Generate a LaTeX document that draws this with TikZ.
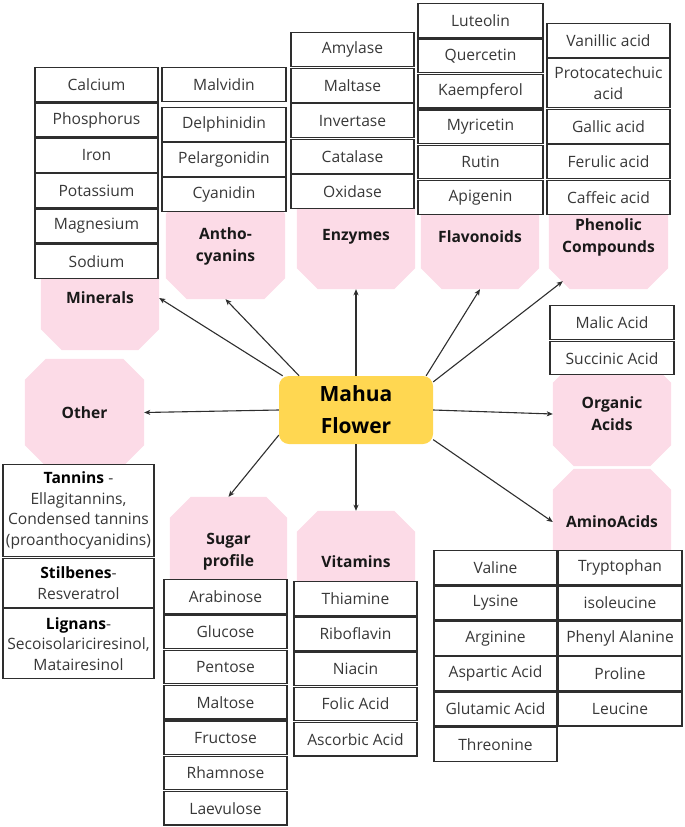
\documentclass[tikz,border=0pt]{standalone}
\usepackage{fontspec}
\setmainfont{Open Sans}
\usetikzlibrary{arrows.meta,calc,backgrounds}
\definecolor{pinkc}{HTML}{FCDBE7}
\definecolor{yellowc}{HTML}{FFD751}
\definecolor{linec}{HTML}{2E2E2E}
\definecolor{txtc}{HTML}{383838}
\newcommand\pinkoct[1]{\fill[pinkc] ($(#1.north west)+(21,0)$) -- ($(#1.north east)+(-21,0)$) -- ($(#1.north east)+(0,21)$) -- ($(#1.south east)+(0,-21)$) -- ($(#1.south east)+(-21,0)$) -- ($(#1.south west)+(21,0)$) -- ($(#1.south west)+(0,-21)$) -- ($(#1.north west)+(0,21)$) -- cycle;}
\begin{document}
\begin{tikzpicture}[x=1pt,y=-1pt,
 item/.style={draw=linec, line width=1.3pt, fill=white, text=txtc, font=\fontsize{15.6}{20.5}\selectfont, inner sep=0.5pt, align=center, anchor=north, minimum height=34},
 cat/.style={font=\fontsize{15.6}{22}\selectfont\bfseries, text=black!90, align=center, minimum width=118, inner sep=0pt},
 arr/.style={draw=linec, line width=1.1pt, -{Stealth[length=6pt,width=5pt,inset=1.5pt]}},
]
\useasboundingbox (0,0) rectangle (685,827);

% category labels (pink shapes filled on background)
\node[cat, minimum height=104] (minc) at (100,298) {Minerals};
\node[cat, minimum width=119, minimum height=106] (antc) at (225.5,246) {Antho-\\cyanins};
\node[cat, minimum height=104] (enzc) at (356,237) {Enzymes};
\node[cat, minimum height=104] (flac) at (480,237) {Flavonoids};
\node[cat, minimum width=119, minimum height=104] (phec) at (608.5,237) {Phenolic\\Compounds};
\node[cat, minimum width=119, minimum height=107] (othc) at (84.5,412.5) {Other};
\node[cat, minimum height=104] (orgc) at (612,414) {Organic\\Acids};
\node[cat, minimum height=106] (amic) at (612,522) {AminoAcids};
\node[cat, minimum width=117, minimum height=110] (sugc) at (228.5,552) {Sugar\\profile};
\node[cat, minimum height=102] (vitc) at (356,562) {Vitamins};

% centre
\node[fill=yellowc, rounded corners=10pt, minimum width=154, minimum height=68, font=\fontsize{21}{32}\selectfont\bfseries, align=center, inner sep=0pt] (m) at (356,410) {Mahua\\Flower};

% item boxes
\foreach \t [count=\i] in {Calcium,Phosphorus,Iron,Potassium,Magnesium,Sodium}
  \node[item, minimum width=123] (min\i) at (96.5,{67+35.3*(\i-1)}) {\t};
\foreach \t/\y [count=\i] in {Malvidin/67,Delphinidin/107,Pelargonidin/142,Cyanidin/177}
  \node[item, minimum width=124] (ant\i) at (224,\y) {\t};
\foreach \t [count=\i] in {Amylase,Maltase,Invertase,Catalase,Oxidase}
  \node[item, minimum width=123] (enz\i) at (352.5,{32+35.5*(\i-1)}) {\t};
\foreach \t [count=\i] in {Luteolin,Quercetin,Kaempferol,Myricetin,Rutin,Apigenin}
  \node[item, minimum width=125, minimum height=33.5] (fla\i) at (480.5,{3+35.4*(\i-1)}) {\t};
\node[item, minimum width=123] (phe1) at (608.5,23) {Vanillic acid};
\node[item, minimum width=123, minimum height=49] (phe2) at (608.5,58) {Protocatechuic\\acid};
\node[item, minimum width=123] (phe3) at (608.5,109) {Gallic acid};
\node[item, minimum width=123] (phe4) at (608.5,144) {Ferulic acid};
\node[item, minimum width=123, minimum height=33.5] (phe5) at (608.5,180) {Caffeic acid};
\node[item, minimum width=124] (org1) at (612,305) {Malic Acid};
\node[item, minimum width=124, minimum height=33] (org2) at (612,341) {Succinic Acid};
\node[item, minimum width=151, minimum height=92] (oth1) at (78.5,464) {\textbf{\color{black}Tannins} -\\Ellagitannins,\\Condensed tannins\\(proanthocyanidins)};
\node[item, minimum width=151, minimum height=49] (oth2) at (78.5,558) {\textbf{\color{black}Stilbenes}-\\Resveratrol};
\node[item, minimum width=151, minimum height=70] (oth3) at (78.5,608) {\textbf{\color{black}Lignans}-\\Secoisolariciresinol,\\Matairesinol};
\foreach \t [count=\i] in {Arabinose,Glucose,Pentose,Maltose,Fructose,Rhamnose,Laevulose}
  \node[item, minimum width=123, minimum height=33.5] (sug\i) at (225.5,{579+35.3*(\i-1)}) {\t};
\foreach \t [count=\i] in {Thiamine,Riboflavin,Niacin,Folic Acid,Ascorbic Acid}
  \node[item, minimum width=123, minimum height=33.5] (vit\i) at (355.5,{581+35.2*(\i-1)}) {\t};
\foreach \t [count=\i] in {Valine,Lysine,Arginine,Aspartic Acid,Glutamic Acid,Threonine}
  \node[item, minimum width=123] (amia\i) at (495.5,{550+35.3*(\i-1)}) {\t};
\foreach \t [count=\i] in {Tryptophan,isoleucine,Phenyl Alanine,Proline,Leucine}
  \node[item, minimum width=124] (amib\i) at (620,{550+35.3*(\i-1)}) {\t};

% connectors
\coordinate (phetip) at ($(phec.south west)+(14,-8)$);
\draw[arr] (m.155) -- (minc.east);
\draw[arr] (m.149.7) -- (antc.south);
\draw[arr] (m.north) -- (enzc.south);
\draw[arr] (m.26) -- (flac.south);
\draw[arr] (m.20) -- (phetip);
\draw[arr] (m.east) -- (orgc.west);
\draw[arr] (m.-21) -- (amic.west);
\draw[arr] (m.south) -- (vitc.north);
\draw[arr] (m.198.4) -- (sugc.north);
\draw[arr] (m.west) -- (othc.east);

\begin{scope}[on background layer]
\foreach \n in {minc,antc,enzc,flac,phec,othc,orgc,amic,sugc,vitc} {\pinkoct{\n}}
\end{scope}
\end{tikzpicture}
\end{document}
